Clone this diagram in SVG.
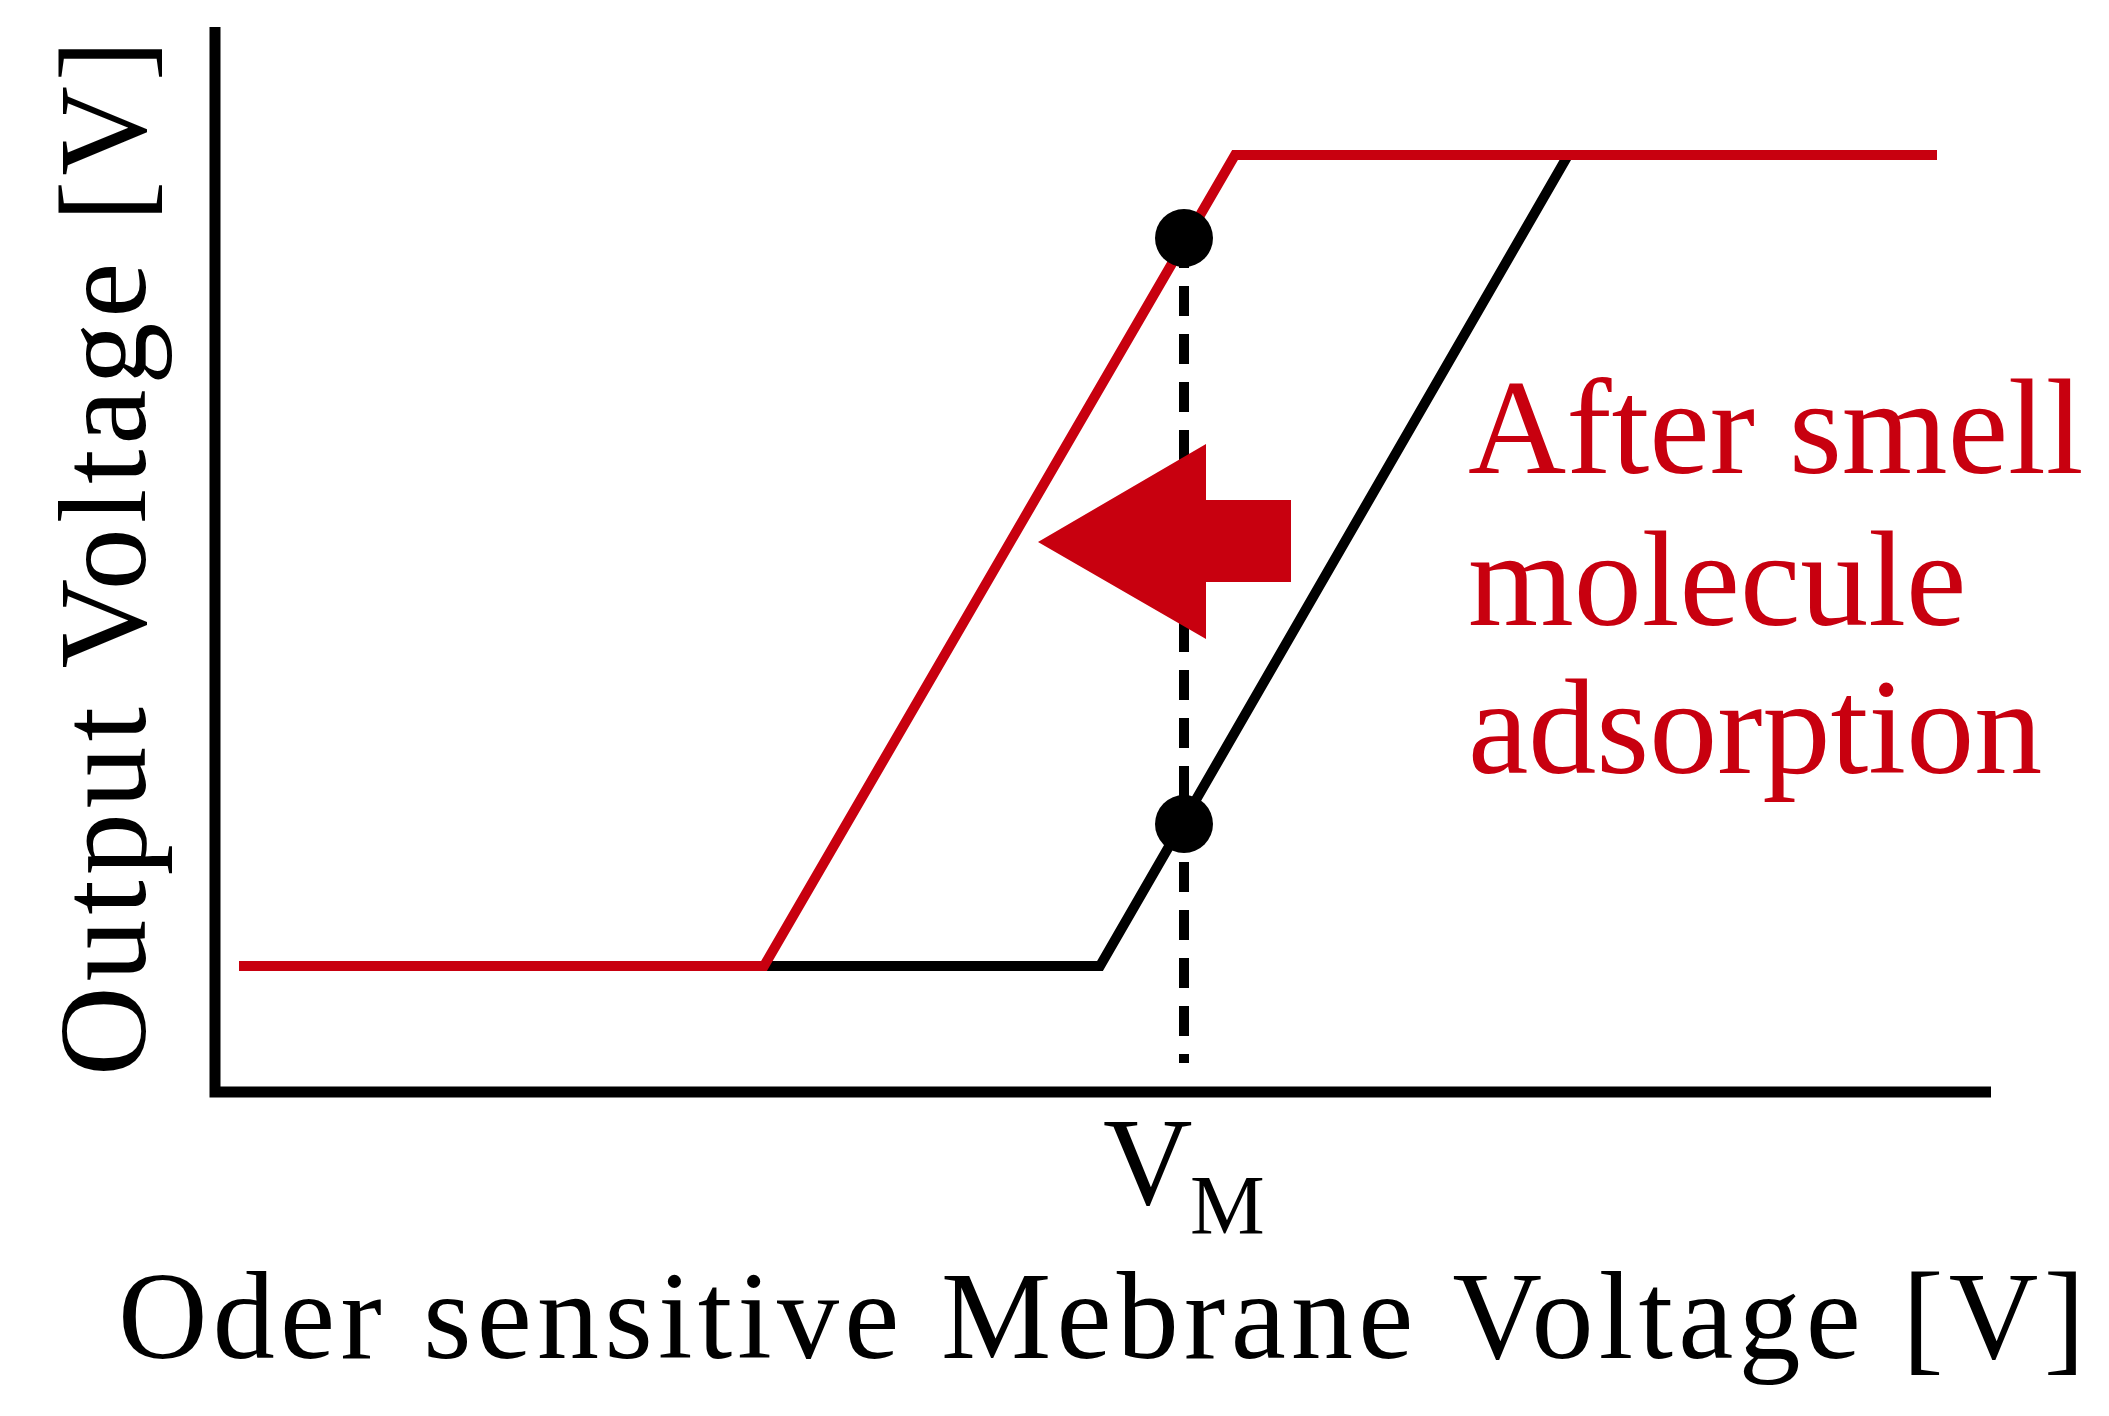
<svg xmlns="http://www.w3.org/2000/svg" width="2109" height="1416" viewBox="0 0 2109 1416">
<style>
.t{font-family:"Liberation Serif","Times New Roman",serif;}
.red{fill:#c8000f}
</style>
<rect width="2109" height="1416" fill="#fff"/>
<g id="connectors" fill="none">
<path d="M764,966 L1100,966 L1567,157" stroke="#000" stroke-width="10"/>
<path d="M239,966 L764,966 L1235,155 L1937,155" stroke="#c8000f" stroke-width="10"/>
<line x1="1184" y1="238" x2="1184" y2="1063" stroke="#000" stroke-width="10" stroke-dasharray="30,18"/>
<path d="M215,27 L215,1092 L1991,1092" stroke="#000" stroke-width="11"/>
</g>
<g id="dots">
<circle cx="1184" cy="238" r="29"/>
<circle cx="1184" cy="824" r="29"/>
</g>
<g id="arrow"><polygon class="red" points="1038,542 1206,444 1206,500 1291,500 1291,582 1206,582 1206,639"/></g>
<g id="labels">
<text class="t red" font-size="136" x="1468" y="473">After smell</text>
<text class="t red" font-size="136" x="1468" y="625">molecule</text>
<text class="t red" font-size="136" x="1468" y="773">adsorption</text>
<text class="t" font-size="124" transform="translate(145,1076) rotate(-90)" textLength="1036">Output Voltage [V]</text>
<text class="t" font-size="124" x="1103" y="1204">V</text>
<text class="t" font-size="84" x="1190" y="1234">M</text>
<text class="t" font-size="124" x="118" y="1358" textLength="1967">Oder sensitive Mebrane Voltage [V]</text>
</g>
</svg>
